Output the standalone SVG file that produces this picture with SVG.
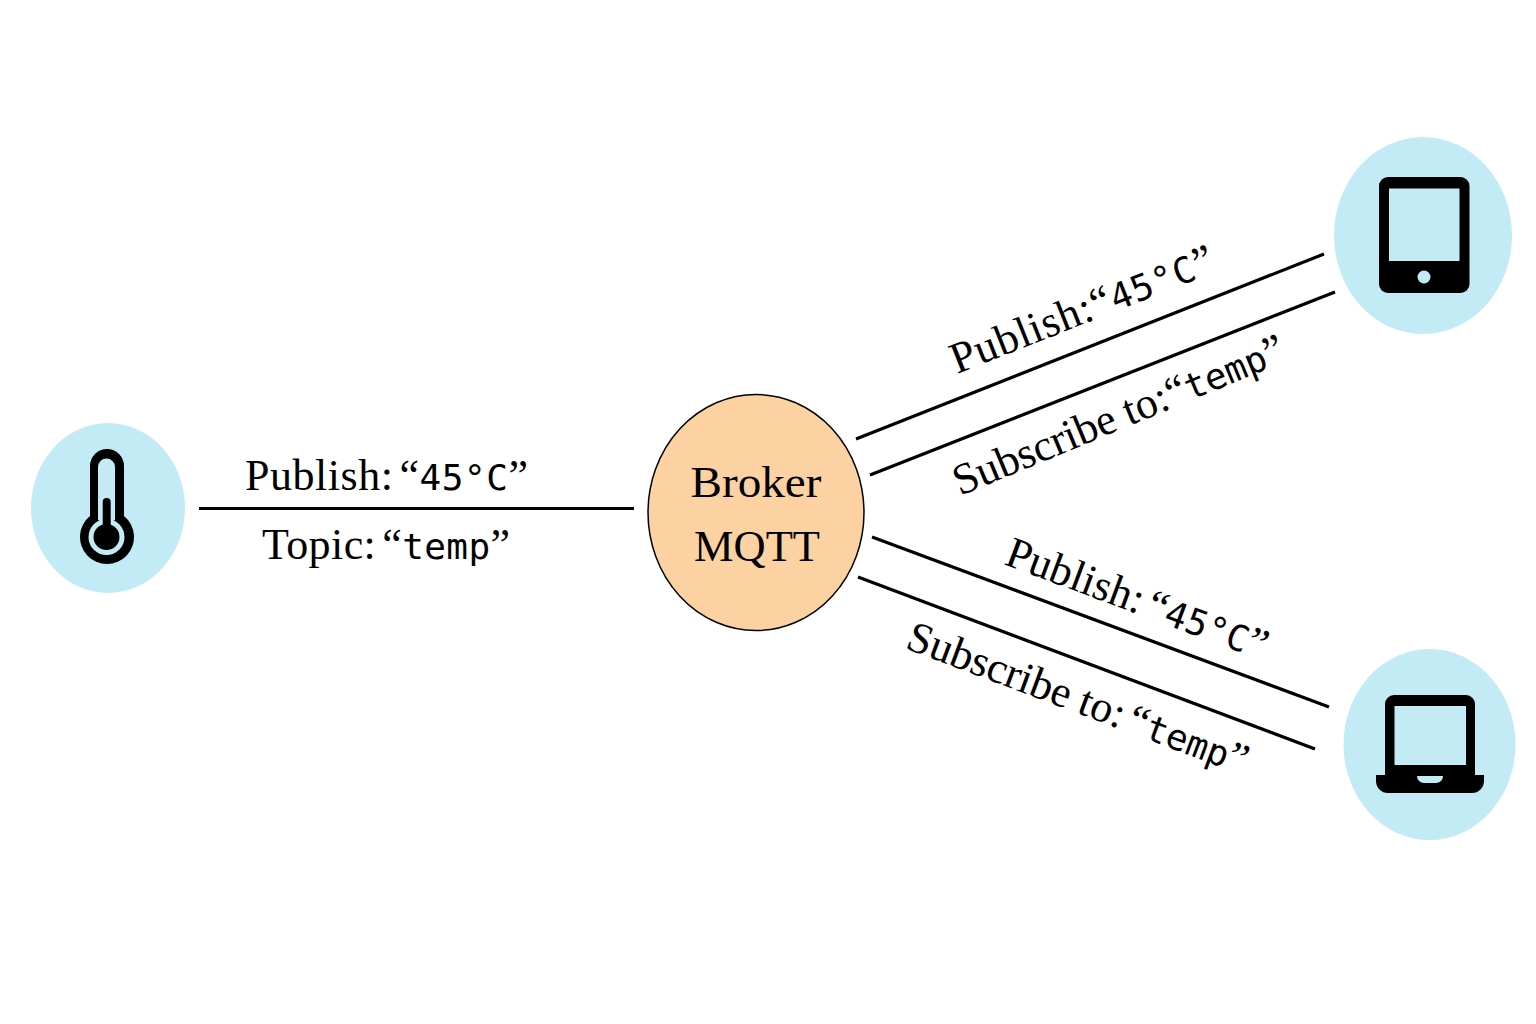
<svg xmlns="http://www.w3.org/2000/svg" width="1536" height="1024" viewBox="0 0 1536 1024">
<style>
.dev{fill:#c3ebf6}
.ic{fill:#000}
.cut{fill:#c3ebf6}
.c{stroke:#000;stroke-width:3.200;fill:none}
text{font-family:"Liberation Serif","DejaVu Serif",serif;font-size:44px;fill:#000}
.m{font-family:"DejaVu Sans Mono","Liberation Mono",monospace;font-size:36px}
</style>
<rect width="1536" height="1024" fill="#fff"/>
<g id="connectors">
<line class="c" x1="199" y1="508.500" x2="634" y2="508.500"/>
<line class="c" x1="856" y1="439" x2="1324" y2="254"/>
<line class="c" x1="870" y1="475" x2="1335" y2="292"/>
<line class="c" x1="872" y1="537" x2="1329" y2="707"/>
<line class="c" x1="858" y1="577" x2="1315" y2="749"/>
</g>
<g id="sensor">
<ellipse class="dev" cx="108" cy="508" rx="77" ry="85"/>
<path class="ic" d="M90 466a17 17 0 0 1 34 0V516a27 27 0 1 1-34 0Z"/>
<path class="cut" d="M98 467a8.500 8.500 0 0 1 17 0V520a18 18 0 0 1-17 0Z"/>
<circle class="cut" cx="106.500" cy="537" r="18"/>
<circle class="ic" cx="106.500" cy="537" r="13"/>
<path class="ic" d="M102.700 502a4 4 0 0 1 8 0V530H102.700Z"/>
</g>
<g id="broker">
<ellipse cx="756" cy="512.500" rx="108" ry="118" fill="#fdd2a2" stroke="#000" stroke-width="1.500"/>
<text x="756" y="497" text-anchor="middle" textLength="131" lengthAdjust="spacingAndGlyphs">Broker</text>
<text x="757" y="561" text-anchor="middle" textLength="126" lengthAdjust="spacingAndGlyphs">MQTT</text>
</g>
<g id="tablet">
<ellipse class="dev" cx="1423" cy="235.500" rx="89" ry="98.500"/>
<rect class="ic" x="1379" y="177" width="90.500" height="116" rx="9"/>
<rect class="cut" x="1389" y="188.500" width="70.500" height="72.500"/>
<circle class="cut" cx="1424" cy="277" r="6.500"/>
</g>
<g id="laptop">
<ellipse class="dev" cx="1429.500" cy="744.500" rx="86" ry="95.500"/>
<path class="ic" d="M1385 775V704a9 9 0 0 1 9-9H1466a9 9 0 0 1 9 9V775H1484V781a12 12 0 0 1-12 12H1388a12 12 0 0 1-12-12V775Z"/>
<rect class="cut" x="1394.500" y="706" width="71.500" height="59"/>
<path class="cut" d="M1417 776H1443a7 7 0 0 1-7 7H1424a7 7 0 0 1-7-7Z"/>
</g>
<g id="labels">
<text x="245" y="490" textLength="283">Publish:<tspan dx="6">“</tspan><tspan class="m">45°C</tspan>”</text>
<text x="262" y="559" textLength="248">Topic:<tspan dx="6">“</tspan><tspan class="m">temp</tspan>”</text>
<text transform="translate(957 374) rotate(-21.600)" textLength="280">Publish:“<tspan class="m">45°C</tspan>”</text>
<text transform="translate(960 496) rotate(-22.500)" textLength="355">Subscribe to:“<tspan class="m">temp</tspan>”</text>
<text transform="translate(1003 564) rotate(20.400)" textLength="276">Publish:<tspan dx="6">“</tspan><tspan class="m">45°C</tspan>”</text>
<text transform="translate(904 648) rotate(20.600)" textLength="361">Subscribe to:<tspan dx="6">“</tspan><tspan class="m">temp</tspan>”</text>
</g>
</svg>
